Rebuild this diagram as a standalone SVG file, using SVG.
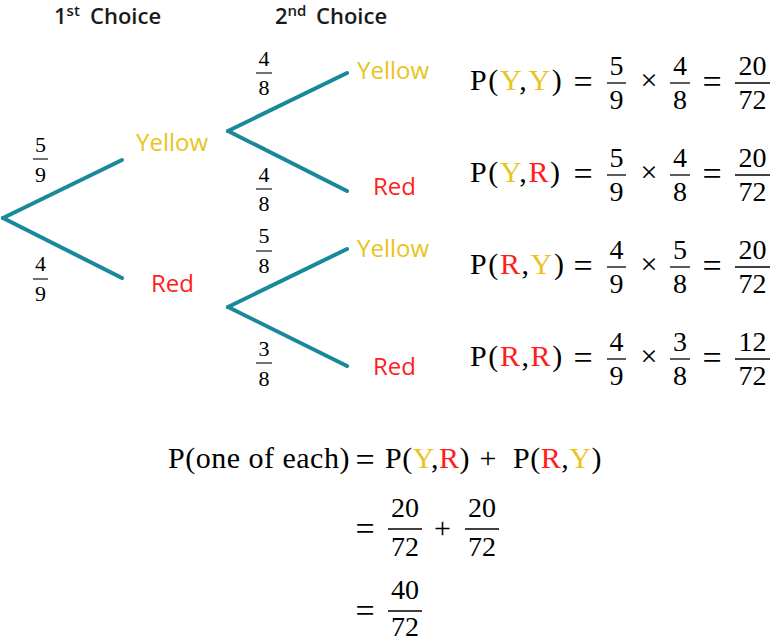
<svg xmlns="http://www.w3.org/2000/svg" width="771" height="640" viewBox="0 0 771 640">
<style>
.hd{font-family:"Open Sans","Noto Sans",sans-serif;font-size:22px;font-weight:600;fill:#1a1a1a}
.sup{font-size:15px}
.lb{font-family:"Open Sans","Noto Sans",sans-serif;font-size:24px}
.yl{fill:#E8C41C}
.rd{fill:#FF1D1D}
.br{stroke:#18899B;stroke-width:4;stroke-linecap:round;fill:none}
.fs{font-family:"Liberation Serif",serif;font-size:22px;fill:#000;text-anchor:middle}
.m{font-family:"Liberation Serif",serif;font-size:30px;fill:#000}
.ls{letter-spacing:1.6px}
.ls2{letter-spacing:0.5px}
.mc{font-family:"Liberation Serif",serif;font-size:30px;fill:#000;text-anchor:middle}
.eq{font-size:34px}
.d{font-family:"Liberation Serif",serif;font-size:28px;fill:#000;text-anchor:middle}
.bar{stroke:#000;stroke-width:1.3}
.sbar{stroke:#000;stroke-width:1.1}
</style>
<g id="headers">
<text class="hd" x="54" y="24">1<tspan class="sup" dy="-8">st</tspan><tspan x="90" y="24">Choice</tspan></text>
<text class="hd" x="275" y="24">2<tspan class="sup" dy="-8">nd</tspan><tspan x="316" y="24">Choice</tspan></text>
</g>
<g id="connectors">
<line class="br" x1="3" y1="218" x2="122" y2="160"/>
<line class="br" x1="3" y1="218" x2="122" y2="278"/>
<line class="br" x1="228" y1="131" x2="347" y2="73"/>
<line class="br" x1="228" y1="131" x2="347" y2="191"/>
<line class="br" x1="228" y1="307" x2="347" y2="249"/>
<line class="br" x1="228" y1="307" x2="347" y2="366"/>
</g>
<g id="branch-probs">
<g id="p-y1"><text class="fs" x="40.5" y="152">5</text><line class="sbar" x1="33" y1="159" x2="48" y2="159"/><text class="fs" x="40.5" y="182">9</text></g>
<g id="p-r1"><text class="fs" x="40.5" y="271">4</text><line class="sbar" x1="33" y1="279" x2="48" y2="279"/><text class="fs" x="40.5" y="301">9</text></g>
<g id="p-yy"><text class="fs" x="264" y="66">4</text><line class="sbar" x1="256" y1="73" x2="272" y2="73"/><text class="fs" x="264" y="95">8</text></g>
<g id="p-yr"><text class="fs" x="264" y="182">4</text><line class="sbar" x1="256" y1="189" x2="272" y2="189"/><text class="fs" x="264" y="211">8</text></g>
<g id="p-ry"><text class="fs" x="264" y="243">5</text><line class="sbar" x1="256" y1="251" x2="272" y2="251"/><text class="fs" x="264" y="273">8</text></g>
<g id="p-rr"><text class="fs" x="264" y="356">3</text><line class="sbar" x1="256" y1="363" x2="272" y2="363"/><text class="fs" x="264" y="386">8</text></g>
</g>
<g id="node-yellow"><text class="lb yl" x="136" y="151">Yellow</text></g>
<g id="node-red"><text class="lb rd" x="151" y="292">Red</text></g>
<g id="node-yellow-yellow"><text class="lb yl" x="357" y="79">Yellow</text></g>
<g id="node-yellow-red"><text class="lb rd" x="373" y="195">Red</text></g>
<g id="node-red-yellow"><text class="lb yl" x="357" y="257">Yellow</text></g>
<g id="node-red-red"><text class="lb rd" x="373" y="375">Red</text></g>
<g id="eq-yy">
<text class="m ls" x="470" y="90">P(<tspan class="yl">Y</tspan>,<tspan class="yl">Y</tspan>)</text>
<text class="mc eq" x="583" y="93">=</text>
<text class="d" x="616.5" y="75">5</text><line class="bar" x1="607" y1="83" x2="626" y2="83"/><text class="d" x="616.5" y="109">9</text>
<text class="mc" x="649" y="90">×</text>
<text class="d" x="680" y="75">4</text><line class="bar" x1="670" y1="83" x2="690" y2="83"/><text class="d" x="680" y="109">8</text>
<text class="mc eq" x="712" y="93">=</text>
<text class="d" x="752.5" y="75">20</text><line class="bar" x1="735" y1="83" x2="770" y2="83"/><text class="d" x="752.5" y="109">72</text>
</g>
<g id="eq-yr">
<text class="m ls" x="470" y="182">P(<tspan class="yl">Y</tspan>,<tspan class="rd">R</tspan>)</text>
<text class="mc eq" x="583" y="185">=</text>
<text class="d" x="616.5" y="167">5</text><line class="bar" x1="607" y1="175" x2="626" y2="175"/><text class="d" x="616.5" y="201">9</text>
<text class="mc" x="649" y="182">×</text>
<text class="d" x="680" y="167">4</text><line class="bar" x1="670" y1="175" x2="690" y2="175"/><text class="d" x="680" y="201">8</text>
<text class="mc eq" x="712" y="185">=</text>
<text class="d" x="752.5" y="167">20</text><line class="bar" x1="735" y1="175" x2="770" y2="175"/><text class="d" x="752.5" y="201">72</text>
</g>
<g id="eq-ry">
<text class="m ls" x="470" y="274">P(<tspan class="rd">R</tspan>,<tspan class="yl">Y</tspan>)</text>
<text class="mc eq" x="583" y="277">=</text>
<text class="d" x="616.5" y="259">4</text><line class="bar" x1="607" y1="267" x2="626" y2="267"/><text class="d" x="616.5" y="293">9</text>
<text class="mc" x="649" y="274">×</text>
<text class="d" x="680" y="259">5</text><line class="bar" x1="670" y1="267" x2="690" y2="267"/><text class="d" x="680" y="293">8</text>
<text class="mc eq" x="712" y="277">=</text>
<text class="d" x="752.5" y="259">20</text><line class="bar" x1="735" y1="267" x2="770" y2="267"/><text class="d" x="752.5" y="293">72</text>
</g>
<g id="eq-rr">
<text class="m ls" x="470" y="366">P(<tspan class="rd">R</tspan>,<tspan class="rd">R</tspan>)</text>
<text class="mc eq" x="583" y="369">=</text>
<text class="d" x="616.5" y="351">4</text><line class="bar" x1="607" y1="359" x2="626" y2="359"/><text class="d" x="616.5" y="385">9</text>
<text class="mc" x="649" y="366">×</text>
<text class="d" x="680" y="351">3</text><line class="bar" x1="670" y1="359" x2="690" y2="359"/><text class="d" x="680" y="385">8</text>
<text class="mc eq" x="712" y="369">=</text>
<text class="d" x="752.5" y="351">12</text><line class="bar" x1="735" y1="359" x2="770" y2="359"/><text class="d" x="752.5" y="385">72</text>
</g>
<g id="eq-total">
<text class="m ls2" x="168" y="468">P(one of each)</text>
<text class="mc eq" x="365" y="471">=</text>
<text class="m ls2" x="385" y="468">P(<tspan class="yl">Y</tspan>,<tspan class="rd">R</tspan>)</text>
<text class="mc" x="488" y="468">+</text>
<text class="m ls2" x="513" y="468">P(<tspan class="rd">R</tspan>,<tspan class="yl">Y</tspan>)</text>
<text class="mc eq" x="365" y="540">=</text>
<text class="d" x="405" y="517">20</text><line class="bar" x1="388" y1="529" x2="422" y2="529"/><text class="d" x="405" y="556">72</text>
<text class="mc" x="442.5" y="538">+</text>
<text class="d" x="482" y="517">20</text><line class="bar" x1="465" y1="529" x2="499" y2="529"/><text class="d" x="482" y="556">72</text>
<text class="mc eq" x="365" y="622">=</text>
<text class="d" x="405" y="599">40</text><line class="bar" x1="388" y1="611" x2="422" y2="611"/><text class="d" x="405" y="636">72</text>
</g>
</svg>
